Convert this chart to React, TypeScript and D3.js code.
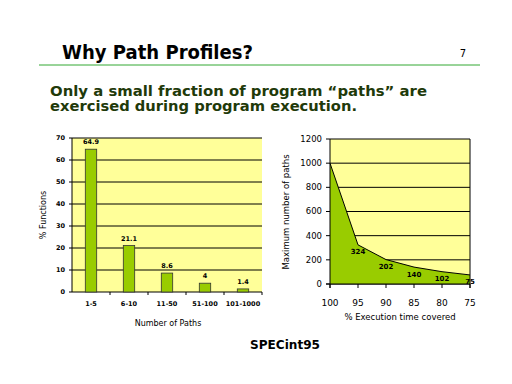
import React from 'react';
import * as d3 from 'd3';

// left chart: % of functions by number of paths
const pathBuckets = ['1-5', '6-10', '11-50', '51-100', '101-1000'];
const pctFunctions = [64.9, 21.1, 8.6, 4, 1.4];
const leftTicks = [0, 10, 20, 30, 40, 50, 60, 70];

// right chart: max paths vs % execution time covered
const coverage = [100, 95, 90, 85, 80, 75];
const maxPaths = [1000, 324, 202, 140, 102, 75];
const rightTicks = [0, 200, 400, 600, 800, 1000, 1200];

const W = 512;
const H = 384;
const yellow = '#ffff99';
const green = '#99cc00';
const sans = 'Verdana, "DejaVu Sans", sans-serif';
const bold = '"Comic Sans MS", "DejaVu Sans", sans-serif';

const LeftChart = () => {
  const x = d3.scaleBand().domain(pathBuckets).range([72, 262]).paddingInner(0.7).paddingOuter(0.35);
  const y = d3.scaleLinear().domain([0, 70]).range([292, 138]);
  return (
    <g>
      <rect x={72} y={138} width={190} height={154} fill={yellow} />
      {leftTicks.map(t => (
        <g key={t}>
          <line x1={69} x2={262} y1={y(t)} y2={y(t)} stroke="#000" strokeWidth={1} />
          <text x={65} y={y(t)} dy="0.35em" textAnchor="end" fontSize={6.5} fontFamily={sans} fontWeight="bold">{t}</text>
        </g>
      ))}
      <line x1={72} x2={72} y1={138} y2={292} stroke="#000" />
      {pathBuckets.map((b, i) => (
        <g key={b}>
          <rect x={x(b)} y={y(pctFunctions[i])} width={x.bandwidth()} height={y(0) - y(pctFunctions[i])}
            fill={green} stroke="#333" strokeWidth={0.8} />
          <text x={(x(b) as number) + x.bandwidth() / 2} y={y(pctFunctions[i]) - 5} textAnchor="middle"
            fontSize={6.5} fontFamily={sans} fontWeight="bold">{pctFunctions[i]}</text>
          <line x1={72 + 38 * (i + 1)} x2={72 + 38 * (i + 1)} y1={292} y2={295} stroke="#000" />
          <text x={(x(b) as number) + x.bandwidth() / 2} y={306} textAnchor="middle" fontSize={6.5}
            fontFamily={sans} fontWeight="bold">{b}</text>
        </g>
      ))}
      <text x={168} y={326} textAnchor="middle" fontSize={8} fontFamily={sans}>Number of Paths</text>
      <text transform="translate(46,215) rotate(-90)" textAnchor="middle" fontSize={8} fontFamily={sans}>% Functions</text>
    </g>
  );
};

const RightChart = () => {
  const x = d3.scalePoint<number>().domain(coverage).range([330, 470]);
  const y = d3.scaleLinear().domain([0, 1200]).range([284, 139]);
  const pts = coverage.map((c, i) => ({ c, v: maxPaths[i] }));
  const area = d3.area<{ c: number; v: number }>().x(d => x(d.c) as number).y0(y(0)).y1(d => y(d.v));
  const line = d3.line<{ c: number; v: number }>().x(d => x(d.c) as number).y(d => y(d.v));
  return (
    <g>
      <rect x={330} y={139} width={140} height={145} fill={yellow} />
      {rightTicks.map(t => (
        <g key={t}>
          <line x1={326} x2={470} y1={y(t)} y2={y(t)} stroke="#000" />
          <text x={322} y={y(t)} dy="0.35em" textAnchor="end" fontSize={8.5} fontFamily={sans}>{t}</text>
        </g>
      ))}
      <path d={area(pts) || ''} fill={green} />
      <path d={line(pts) || ''} fill="none" stroke="#000" strokeWidth={1} />
      <line x1={326} x2={470} y1={y(0)} y2={y(0)} stroke="#000" />
      <line x1={330} x2={330} y1={139} y2={288} stroke="#000" />
      <line x1={470} x2={470} y1={139} y2={288} stroke="#000" />
      {coverage.map(c => (
        <g key={c}>
          <line x1={x(c)} x2={x(c)} y1={284} y2={288} stroke="#000" />
          <text x={x(c)} y={303} dy="0.35em" textAnchor="middle" fontSize={9} fontFamily={sans}>{c}</text>
        </g>
      ))}
      {pts.slice(1).map(d => (
        <text key={d.c} x={x(d.c)} y={y(d.v) + 7} dy="0.35em" textAnchor="middle" fontSize={7}
          fontFamily={sans} fontWeight="bold">{d.v}</text>
      ))}
      <text x={400} y={317} dy="0.35em" textAnchor="middle" fontSize={8.5} fontFamily={sans}>% Execution time covered</text>
      <text transform="translate(286,212) rotate(-90)" textAnchor="middle" dy="0.35em" fontSize={8.5} fontFamily={sans}>Maximum number of paths</text>
    </g>
  );
};

export default function App() {
  return (
    <svg width={W} height={H} style={{ position: 'absolute', left: 0, top: 0 }}>
      <rect width={W} height={H} fill="#fff" />
      <text x={62} y={59} fontSize={20} fontWeight="bold" fontFamily={bold} textLength={191}
        lengthAdjust="spacingAndGlyphs">Why Path Profiles?</text>
      <text x={463} y={57} textAnchor="middle" fontSize={10} fontFamily={sans}>7</text>
      <line x1={39} x2={480} y1={65} y2={65} stroke="#33a833" strokeWidth={1} />
      <text x={50} y={96} fontSize={14} fontWeight="bold" fontFamily={bold} fill="#1f3a0a" textLength={377}
        lengthAdjust="spacingAndGlyphs">Only a small fraction of program “paths” are</text>
      <text x={50} y={111} fontSize={14} fontWeight="bold" fontFamily={bold} fill="#1f3a0a" textLength={307}
        lengthAdjust="spacingAndGlyphs">exercised during program execution.</text>
      <LeftChart />
      <RightChart />
      <text x={285} y={349} textAnchor="middle" fontSize={13} fontWeight="bold" fontFamily={bold} textLength={70}
        lengthAdjust="spacingAndGlyphs">SPECint95</text>
    </svg>
  );
}
